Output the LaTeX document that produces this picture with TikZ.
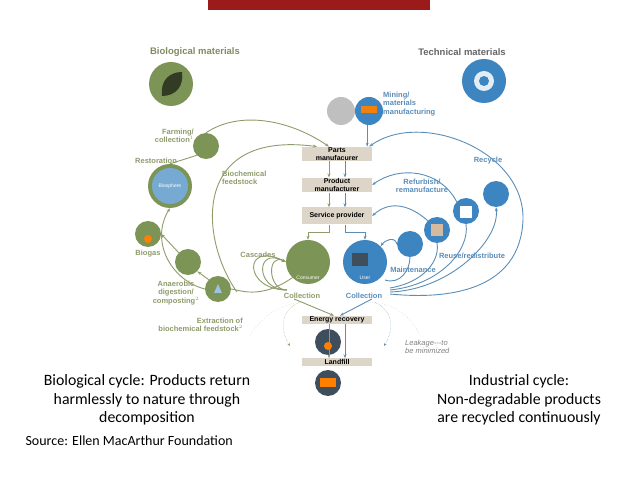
\documentclass[tikz,border=0pt]{standalone}
\usepackage{fontspec}
\setmainfont{Carlito}
\newfontfamily\lab{Liberation Sans}
\usetikzlibrary{arrows.meta}
\definecolor{grn}{HTML}{7D9457}
\definecolor{grnt}{HTML}{8E9B6B}
\definecolor{blu}{HTML}{3D85C0}
\definecolor{blut}{HTML}{5A8DB8}
\definecolor{bx}{HTML}{DDD5C8}
\definecolor{dk}{HTML}{3F4E5C}
\definecolor{red1}{HTML}{9B1B1B}
\begin{document}
\begin{tikzpicture}[x=1pt,y=-1pt,
 lg/.style={font=\lab\fontsize{7.5}{8.5}\selectfont\bfseries,text=grnt,align=center,inner sep=0},
 lb/.style={font=\lab\fontsize{7.5}{8.5}\selectfont\bfseries,text=blut,align=center,inner sep=0},
 box/.style={fill=bx,minimum width=70pt,inner sep=1pt,font=\lab\fontsize{7}{7.5}\selectfont\bfseries,align=center},
 gc/.style={circle,fill=grn,minimum size=#1,inner sep=0,font=\lab\fontsize{5}{5}\selectfont,text=white},
 bc/.style={circle,fill=blu,minimum size=#1,inner sep=0,font=\lab\fontsize{5}{5}\selectfont,text=white},
 dc/.style={circle,fill=dk,minimum size=#1,inner sep=0},
 ga/.style={draw=grnt,line width=0.9pt,-{Stealth[length=4pt]}},
 ba/.style={draw=blut,line width=0.9pt,-{Stealth[length=4pt]}},
 captxt/.style={font=\fontsize{15.8}{18.5}\selectfont,align=center}]
\useasboundingbox (0,0) rectangle (638,478);
\fill[red1] (208,0) rectangle (430,10);
% headers
\node[lg,font=\lab\fontsize{9.5}{10}\selectfont\bfseries,text=grnt!90!black] (hbio) at (195,52) {Biological materials};
\node[lb,font=\lab\fontsize{9.5}{10}\selectfont\bfseries,text=gray!80!black] (htec) at (462,52) {Technical materials};
\node[gc=44pt] (leaf) at (171,84) {};
\fill[black!60!grn] (162,96) .. controls (160,80) and (170,72) .. (182,72) .. controls (184,86) and (176,96) .. (162,96);
\node[bc=44pt] (gear) at (484,81) {};
\fill[white!85!blu] (484,81) circle (10pt); \fill[blu] (484,81) circle (5pt);
% mining
\node[dc=28pt,fill=gray!50] (oil) at (341,111) {};
\node[bc=28pt] (mine) at (369,111) {};
\fill[orange!80!brown] (361,106) rectangle (377,113);
\node[lb,align=left,anchor=west] (lmine) at (383,104) {Mining/\\materials\\manufacturing};
% boxes
\node[box] (parts) at (337,154) {Parts\\manufacurer};
\node[box] (prod) at (337,185) {Product\\manufacturer};
\node[box,minimum height=17pt] (serv) at (337,216) {Service provider};
\node[box] (energy) at (337,320) {Energy recovery};
\node[box] (land) at (337,362) {Landfill};
% circles bio
\node[gc=26pt] (farm) at (206,146) {};
\node[circle,fill=grn,minimum size=44pt,inner sep=0] (bios) at (170,186) {};
\node[circle,fill=blu!70,minimum size=36pt,inner sep=0,font=\lab\fontsize{5}{5}\selectfont,text=white] at (170,186) {Biosphere};
\node[gc=26pt] (biogas) at (148,234) {};
\fill[orange] (148,239) circle (4pt);
\node[gc=26pt] (anaer) at (188,262) {};
\node[gc=26pt] (extr) at (218,289) {};
\fill[blu!50] (214,293) -- (222,293) -- (218,284) -- cycle;
\node[gc=44pt] (cons) at (308,262) {};
\node[font=\lab\fontsize{5}{5}\selectfont,text=white] at (308,278) {Consumer};
\node[bc=44pt] (user) at (365,262) {};
\fill[dk] (352,253) rectangle (368,266);
\node[font=\lab\fontsize{5}{5}\selectfont,text=white] at (365,278) {User};
% circles tech
\node[bc=26pt] (maint) at (410,244) {};
\node[bc=26pt] (reuse) at (437,230) {};
\fill[bx!70!brown] (431,224) rectangle (443,236);
\node[bc=26pt] (refurb) at (466,211) {};
\fill[white] (460,206) rectangle (472,218);
\node[bc=26pt] (recyc) at (496,194) {};
\node[dc=26pt] (flame) at (328,342) {};
\fill[orange] (328,346) circle (4pt);
\node[dc=26pt] (truck) at (328,383) {};
\fill[orange] (320,378) rectangle (336,387);
% labels
\node[lg,anchor=east,align=right] (lfarm) at (194,136) {Farming/\\collection$^1$};
\node[lg] (lrest) at (156,161) {Restoration};
\node[lg,align=left,anchor=west] (lbio) at (222,178) {Biochemical\\feedstock};
\node[lg] (lgas) at (148,254) {Biogas};
\node[lg] (lcasc) at (258,255) {Cascades};
\node[lg] (lanae) at (176,293) {Anaerobic\\digestion/\\composting$^2$};
\node[lg,align=right,anchor=east] (lext) at (243,325) {Extraction of\\biochemical feedstock$^2$};
\node[lg] (lcol1) at (302,296) {Collection};
\node[lb] (lcol2) at (364,296) {Collection};
\node[lb] (lrecy) at (488,161) {Recycle};
\node[lb] (lref) at (422,186) {Refurbish/\\remanufacture};
\node[lb] (lreuse) at (472,256) {Reuse/redistribute};
\node[lb] (lmaint) at (413,270) {Maintenance};
\node[lb,text=gray,font=\lab\fontsize{7.5}{8.5}\selectfont\itshape,align=left,anchor=west] (lleak) at (405,347) {Leakage---to\\be minimized};
% green flows
\draw[ga] (farm.north) .. controls (240,110) and (290,120) .. ([xshift=-8pt]parts.north);
\draw[ga] (237,292) .. controls (200,240) and (190,130) .. ([xshift=-20pt]parts.north);
\draw[draw=grnt,line width=0.9pt] (cons.south west) .. controls (260,300) and (240,290) .. (extr.east);
\draw[draw=grnt,line width=0.9pt] (bios.north) -- (farm.south west);
\draw[ga] (extr.north west) -- (anaer.south east);
\draw[ga] (anaer.north west) -- (biogas.east);
\draw[ga] (extr.west) .. controls (170,280) and (150,240) .. (bios.south);
\draw[ga] ([xshift=-8pt]parts.south) -- ([xshift=-8pt]prod.north);
\draw[ga] ([xshift=-8pt]prod.south) -- ([xshift=-8pt]serv.north);
\draw[ga] ([xshift=-8pt]serv.south) -- ++(0,8) -| (cons.north);
\foreach \r in {10,16,22} \draw[ga] (287,290) .. controls (287-\r*2,290) and (287-\r*2,262-\r) .. (cons.west);
\draw[ga] ([xshift=-8pt]lcol1.south) -- ([xshift=-3pt]energy.north);
\draw[ga] ([xshift=-8pt]energy.south) -- ([xshift=-8pt]land.north);
% blue flows
\draw[ba] (oil.south -| parts.north east) ++(-5,0) -- ([xshift=-5pt]parts.north east);
\draw[ba] ([xshift=8pt]parts.south) -- ([xshift=8pt]prod.north);
\draw[ba] ([xshift=8pt]prod.south) -- ([xshift=8pt]serv.north);
\draw[ba] ([xshift=8pt]serv.south) -- ++(0,8) -| (user.north);
\draw[ba] (390,294) .. controls (450,300) and (520,290) .. (523,220) .. controls (525,150) and (420,110) .. ([xshift=-3pt]parts.north east);
\draw[ba] (390,292) .. controls (450,290) and (500,240) .. (recyc.south);
\draw[draw=blut,line width=0.9pt] (390,290) .. controls (440,285) and (470,250) .. (refurb.south);
\draw[ba] (refurb.north west) .. controls (440,170) and (400,165) .. (prod.east);
\draw[draw=blut,line width=0.9pt] (390,288) .. controls (425,282) and (440,260) .. (reuse.south);
\draw[ba] (reuse.north west) .. controls (410,205) and (390,200) .. (serv.east);
\draw[draw=blut,line width=0.9pt] (385,280) .. controls (400,285) and (410,270) .. (maint.south);
\draw[ba] (maint.west) .. controls (395,236) and (385,240) .. (user.north east);
\draw[ba] ([xshift=8pt]lcol2.south) -- ([xshift=3pt]energy.north);
\draw[ba] ([xshift=8pt]energy.south) -- ([xshift=8pt]land.north);
% leakage dotted
\draw[densely dotted,draw=grnt,-{Stealth[length=3pt]}] (300,302) .. controls (280,310) and (280,330) .. (290,346);
\draw[densely dotted,draw=blut,-{Stealth[length=3pt]}] (374,302) .. controls (394,310) and (394,330) .. (384,346);
\draw[dotted,draw=gray!60] (250,335) .. controls (270,305) and (295,302) .. (310,302);
\draw[dotted,draw=gray!60] (420,335) .. controls (405,305) and (380,302) .. (365,302);
% captions
\node[captxt] (capl) at (147,400) {Biological cycle: Products return\\harmlessly to nature through\\decomposition};
\node[captxt] (capr) at (519,400) {Industrial cycle:\\Non-degradable products\\are recycled continuously};
\node[font=\fontsize{14}{16}\selectfont,anchor=west] (src) at (22,441) {Source: Ellen MacArthur Foundation};
\end{tikzpicture}
\end{document}
